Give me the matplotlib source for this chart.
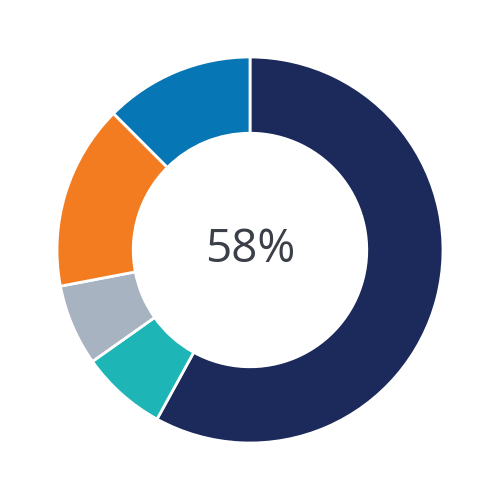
import matplotlib.pyplot as plt

labels = ["Navy", "Teal", "Gray", "Orange", "Blue"]
values = [58, 7.2, 6.8, 15.5, 12.5]
colors = ["#1b2a5a", "#1db5b6", "#a8b3c1", "#f37c21", "#0676b4"]
center_text = "58%"

fig = plt.figure(figsize=(5, 5), dpi=100)
ax = fig.add_axes([0, 0, 1, 1])

ax.pie(values, colors=colors, startangle=90, counterclock=False,
       radius=1.0,
       wedgeprops=dict(width=0.395, edgecolor="white", linewidth=2))

ax.text(0, 0, center_text, ha="center", va="center", fontsize=33,
        color="#3b3f48", family="Open Sans")

lim = 250 / 193
ax.set_xlim(-lim, lim)
ax.set_ylim(-lim, lim)
ax.set_aspect("equal")
ax.axis("off")

fig.savefig("out.png", dpi=100, facecolor="white")
